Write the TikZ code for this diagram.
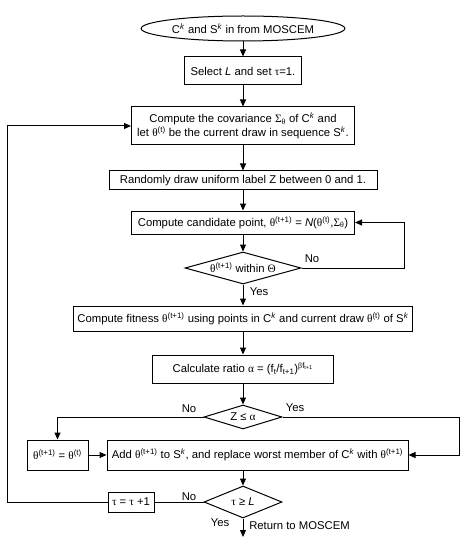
\documentclass[tikz,border=0pt]{standalone}
\usepackage{fontspec}
\setmainfont{Liberation Sans}
\newfontfamily\grkfont{Liberation Serif}
\usepackage{tikz}
\usetikzlibrary{shapes, arrows.meta, positioning}
\newcommand{\gk}[1]{{\grkfont #1}}
\newcommand{\sps}[1]{\textsuperscript{#1}}

\begin{document}
\begin{tikzpicture}
  [
    x=1pt, y=-1pt,
    font=\fontsize{11.3}{14}\selectfont,
    Box/.style={rectangle, draw=black, line width=1pt, inner sep=1pt, align=center},
    Oval/.style={ellipse, draw=black, line width=1pt, inner sep=1pt},
    Test/.style={diamond, draw=black, line width=1pt, inner sep=0pt},
    Flow/.style={draw, line width=1pt, -{Triangle[length=7pt, width=6pt]}},
    Line/.style={draw, line width=1pt}
  ]
  \useasboundingbox (0, 0) rectangle (474, 545);

  % Nodes
  \node[Oval, minimum width=178, minimum height=25] (start) at(243, 28.5) {C\sps{\textit{k}} and S\sps{\textit{k}} in from MOSCEM};
  \node[Box, minimum width=117, minimum height=28] (sel) at(243, 71) {Select \textit{L} and set \gk{τ}=1.};
  \node[Box, minimum width=223, minimum height=38] (cov) at(243, 126) {Compute the covariance \gk{Σ}\textsubscript{\gk{θ}} of C\sps{\textit{k}} and\\ let \gk{θ}\sps{(t)} be the current draw in sequence S\sps{\textit{k}}.};
  \node[Box, minimum width=268, minimum height=19] (rnd) at(243, 180.5) {Randomly draw uniform label Z between 0 and 1.};
  \node[Box, minimum width=223, minimum height=23] (cand) at(243, 222.5) {Compute candidate point, \gk{θ}\sps{(t+1)} = \textit{N}(\gk{θ}\sps{(t)},\gk{Σ}\textsubscript{\gk{θ}})};
  \node[Test, shape aspect=3.6, minimum width=116, minimum height=32] (within) at(243, 268) {\gk{θ}\sps{(t+1)} within \gk{Θ}};
  \node[Box, minimum width=339, minimum height=25] (fit) at(243, 318.5) {Compute fitness \gk{θ}\sps{(t+1)} using points in C\sps{\textit{k}} and current draw \gk{θ}\sps{(t)} of S\sps{\textit{k}}};
  \node[Box, minimum width=181, minimum height=28] (ratio) at(243, 369) {Calculate ratio \gk{α} = (f\textsubscript{t}/f\textsubscript{t+1})\sps{\gk{β}f\textsubscript{t+1}}};
  \node[Test, shape aspect=3.2, minimum width=78, minimum height=24] (accept) at(243, 417) {Z ≤ \gk{α}};
  \node[Box, minimum width=61, minimum height=30] (keep) at(57.5, 455) {\gk{θ}\sps{(t+1)} = \gk{θ}\sps{(t)}};
  \node[Box, minimum width=301, minimum height=30] (add) at(257.5, 455) {Add \gk{θ}\sps{(t+1)} to S\sps{\textit{k}}, and replace worst member of C\sps{\textit{k}} with \gk{θ}\sps{(t+1)}};
  \node[Test, shape aspect=2.4, minimum width=78, minimum height=32] (stop) at(243, 502) {\gk{τ} ≥ \textit{L}};
  \node[Box, minimum width=46, minimum height=20] (inc) at(131, 502) {\gk{τ} = \gk{τ} +1};

  % Labels
  \node (no1) at(312, 259) {No};
  \node (yes1) at(259, 292) {Yes};
  \node (no2) at(189, 409) {No};
  \node (yes2) at(295, 408) {Yes};
  \node (no3) at(189, 497) {No};
  \node (yes3) at(220, 523) {Yes};
  \node (ret) at(299.5, 526) {Return to MOSCEM};

  % Corners
  \coordinate (c1) at(404, 268);
  \coordinate (c2) at(459, 417);
  \coordinate (c3) at(7, 502);
  \coordinate (out) at(243, 537);

  % Lines
  \path [Flow] (start) -- (sel);
  \path [Flow] (sel) -- (cov);
  \path [Flow] (cov) -- (rnd);
  \path [Flow] (rnd) -- (cand);
  \path [Flow] (cand) -- (within);
  \path [Flow] (within) -- (fit);
  \path [Flow] (within.east) -- (c1) |- (cand.east);
  \path [Flow] (fit) -- (ratio);
  \path [Flow] (ratio) -- (accept);
  \path [Flow] (accept.west) -| (keep.north);
  \path [Flow] (accept.east) -- (c2) |- (add.east);
  \path [Flow] (keep) -- (add);
  \path [Flow] (stop |- add.south) -- (stop);
  \path [Line] (stop.west) -- (inc.east);
  \path [Flow] (inc.west) -- (c3) |- (cov.west);
  \path [Flow] (stop) -- (out);

\end{tikzpicture}
\end{document}
